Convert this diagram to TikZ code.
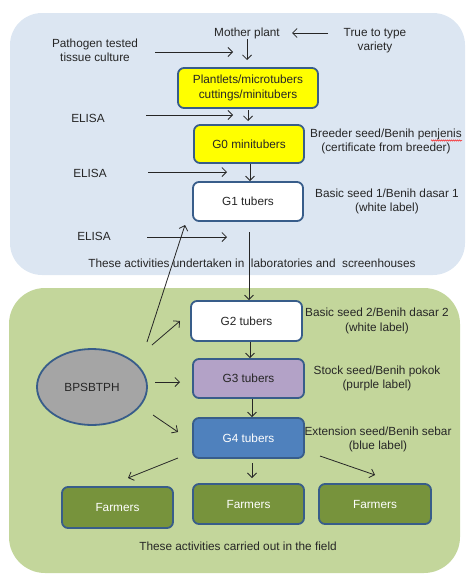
\documentclass[tikz,border=0pt]{standalone}
\usepackage{fontspec}
\setmainfont{Liberation Sans}
\usetikzlibrary{arrows.meta,shapes.geometric,decorations.pathmorphing}
\definecolor{bgblue}{HTML}{DCE6F2}
\definecolor{bggreen}{HTML}{C3D69B}
\definecolor{bordblue}{HTML}{385D8A}
\definecolor{ylw}{HTML}{FFFF00}
\definecolor{purp}{HTML}{B3A2C7}
\definecolor{gfour}{HTML}{4F81BD}
\definecolor{farm}{HTML}{77933C}
\definecolor{ellgray}{HTML}{A5A5A5}
\definecolor{ink}{HTML}{262626}
\begin{document}
\begin{tikzpicture}[x=1pt,y=-1pt,
  every node/.style={font=\fontsize{11.8}{14.2}\selectfont, text=ink},
  box/.style={draw=bordblue, line width=1.8pt, rounded corners=6pt, align=center, inner sep=0pt},
  lbl/.style={align=center, inner sep=0pt},
  arr/.style={draw=ink, line width=0.8pt, -{Straight Barb[length=4.5pt,width=9pt]}},
  ln/.style={draw=ink, line width=0.8pt}]
\useasboundingbox (0,0) rectangle (474,581);
% regions
\fill[bgblue, rounded corners=32pt] (10,13) rectangle (465,275);
\fill[bggreen, rounded corners=36pt] (9,288) rectangle (460,573);
% top texts
\node[lbl] (mother) at (247,33) {Mother plant};
\node[lbl] (truetype) at (375,40.5) {True to type\\variety};
\node[lbl] (pathogen) at (95,50) {Pathogen tested\\tissue culture};
% boxes
\node[box, fill=ylw, minimum width=140pt, minimum height=40pt] (plant) at (248,88) {Plantlets/microtubers\\cuttings/minitubers};
\node[box, fill=ylw, minimum width=110pt, minimum height=38pt] (g0) at (249,144) {G0 minitubers};
\node[box, fill=white, minimum width=110pt, minimum height=39pt] (g1) at (248,201.5) {G1 tubers};
\node[box, fill=white, minimum width=111pt, minimum height=40pt] (g2) at (246.5,321) {G2 tubers};
\node[box, fill=purp, minimum width=111pt, minimum height=39pt] (g3) at (248.5,378.5) {G3 tubers};
\node[box, fill=gfour, minimum width=111pt, minimum height=40pt, text=white] (g4) at (248.5,438) {G4 tubers};
\node[box, fill=farm, minimum width=111pt, minimum height=41pt, text=white] (farmL) at (117.5,507.5) {Farmers};
\node[box, fill=farm, minimum width=111pt, minimum height=40pt, text=white] (farmM) at (248.5,504) {Farmers};
\node[box, fill=farm, minimum width=112pt, minimum height=40pt, text=white] (farmR) at (375,504) {Farmers};
\node[ellipse, draw=bordblue, line width=1.8pt, fill=ellgray, minimum width=110pt, minimum height=76pt, inner sep=0pt] (bps) at (92,387) {BPSBTPH};
% side labels
\node[lbl] (breeder) at (386,141.5) {Breeder seed/Benih penjenis\\(certificate from breeder)};
\node[lbl] (basic1) at (387,201.5) {Basic seed 1/Benih dasar 1\\(white label)};
\node[lbl] (basic2) at (377,321) {Basic seed 2/Benih dasar 2\\(white label)};
\node[lbl] (stock) at (377,378.5) {Stock seed/Benih pokok\\(purple label)};
\node[lbl] (ext) at (378,439.5) {Extension seed/Benih sebar\\(blue label)};
\draw[red, line width=0.5pt, decorate, decoration={snake, amplitude=0.6pt, segment length=2pt}] (431,140.5) -- (462,140.5);
% ELISA
\node[lbl] (elisa1) at (88,118) {ELISA};
\node[lbl] (elisa2) at (90,173) {ELISA};
\node[lbl] (elisa3) at (94,236) {ELISA};
% region captions
\node[lbl] (labcap) at (252,263) {These activities undertaken in\ \ laboratories and\ \ screenhouses};
\node[lbl] (fieldcap) at (238,546) {These activities carried out in the field};
% coordinates
\coordinate (tt1) at (328,33); \coordinate (tt2) at (292,33);
\coordinate (pa1) at (155,52); \coordinate (pa2) at (233,52);
\coordinate (m1) at (247,39); \coordinate (m2) at (247,60);
\coordinate (e1a) at (146,115); \coordinate (e1b) at (233,115);
\coordinate (p1) at (248,110); \coordinate (p2) at (248,121);
\coordinate (e2a) at (148,172); \coordinate (e2b) at (227,172);
\coordinate (e3a) at (147,237); \coordinate (e3b) at (227,237);
\coordinate (v1) at (249,232);
\coordinate (d1) at (147,342); \coordinate (d2) at (185,225);
\coordinate (b2a) at (152,345); \coordinate (b2b) at (180,321);
\coordinate (b3a) at (155,382); \coordinate (b3b) at (180,382);
\coordinate (b4a) at (153,415); \coordinate (b4b) at (178,432);
\coordinate (fl1) at (178,458); \coordinate (fl2) at (128,478);
\coordinate (fm1) at (252,463); \coordinate (fm2) at (252,478);
\coordinate (fr1) at (320,456); \coordinate (fr2) at (375,475);
% arrows
\draw[arr] (tt1) -- (tt2);
\draw[arr] (pa1) -- (pa2);
\draw[arr] (m1) -- (m2);
\draw[arr] (e1a) -- (e1b);
\draw[arr] (p1) -- (p2);
\draw[arr] (e2a) -- (e2b);
\draw[arr] (g0.south -| 250,0) -- (g1.north -| 250,0);
\draw[arr] (e3a) -- (e3b);
\draw[arr] (v1) -- (g2.north -| v1);
\draw[arr] (d1) -- (d2);
\draw[arr] (b2a) -- (b2b);
\draw[arr] (b3a) -- (b3b);
\draw[arr] (b4a) -- (b4b);
\draw[arr] (g2.south -| 250,0) -- (g3.north -| 250,0);
\draw[arr] (g3.south -| 252,0) -- (g4.north -| 252,0);
\draw[arr] (fl1) -- (fl2);
\draw[arr] (fm1) -- (fm2);
\draw[arr] (fr1) -- (fr2);
\end{tikzpicture}
\end{document}
